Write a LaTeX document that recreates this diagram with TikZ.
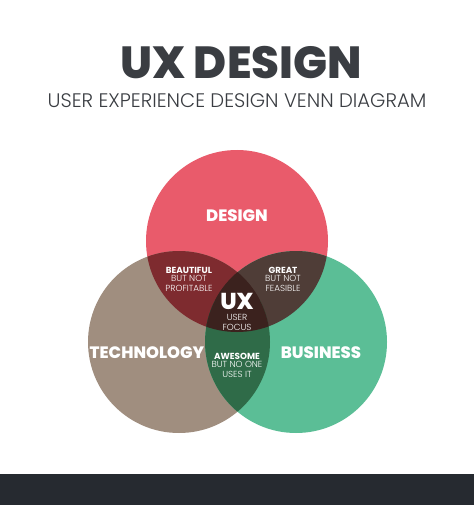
\documentclass[tikz,border=0pt]{standalone}
\usepackage{fontspec}
\setmainfont{Poppins}[FontFace={eb}{n}{Poppins ExtraBold},FontFace={l}{n}{Poppins Light}]
\usepackage{xcolor}
\usetikzlibrary{positioning}
\definecolor{designred}{HTML}{E95B6B}
\definecolor{techbrown}{HTML}{A08E7F}
\definecolor{bizgreen}{HTML}{5BBE96}
\definecolor{redtech}{HTML}{7E2B2F}
\definecolor{redbiz}{HTML}{4F3D37}
\definecolor{techbiz}{HTML}{2F6B48}
\definecolor{uxcore}{HTML}{3B221E}
\definecolor{titlegray}{HTML}{3A3D42}
\definecolor{footbar}{HTML}{262A30}

\begin{document}
\begin{tikzpicture}[x=1pt,y=-1pt,
  setlbl/.style={text=white,font=\fontseries{eb}\fontsize{16.5}{17}\selectfont},
  parthead/.style={text=white,inner sep=0pt,font=\bfseries\fontsize{8.8}{9}\selectfont},
  partnote/.style={text=white,align=center,inner sep=0pt,font=\fontseries{l}\fontsize{8.8}{9.8}\selectfont}]
\useasboundingbox (0,0) rectangle (474,505);
\fill[footbar] (0,474) rectangle (474,505);
\node[text=titlegray,font=\fontseries{eb}\fontsize{45}{45}\selectfont] (title) at (241,63) {UX DESIGN};
\node[text=titlegray,font=\fontseries{l}\fontsize{19.6}{20}\selectfont] (subtitle) at (237,101) {USER EXPERIENCE DESIGN VENN DIAGRAM};
\coordinate (d) at (237,241);
\coordinate (t) at (179,342);
\coordinate (b) at (296,342);
\fill[designred] (d) circle (91);
\fill[techbrown] (t) circle (91);
\fill[bizgreen] (b) circle (91);
% overlaps
\begin{scope}
\clip (d) circle (91);
\fill[redtech] (t) circle (91);
\fill[redbiz] (b) circle (91);
\clip (t) circle (91);
\fill[uxcore] (b) circle (91);
\end{scope}
\begin{scope}
\clip (t) circle (91);
\clip (b) circle (91);
\fill[techbiz] (200,300) rectangle (290,440);
\fill[uxcore] (d) circle (91);
\end{scope}
\node[setlbl] (design) at (237,216) {DESIGN};
\node[setlbl] (tech) at (147,353) {TECHNOLOGY};
\node[setlbl] (biz) at (321,353) {BUSINESS};
\node[parthead] (beau) at (189,270) {BEAUTIFUL};
\node[partnote,below=2pt of beau] (beaunote) {BUT NOT\\PROFITABLE};
\node[parthead] (great) at (283,270) {GREAT};
\node[partnote,below=2pt of great] (greatnote) {BUT NOT\\FEASIBLE};
\node[text=white,inner sep=0pt,font=\fontseries{eb}\fontsize{23}{23}\selectfont] (ux) at (237,301) {UX};
\node[partnote,below=5pt of ux] (uxnote) {USER\\FOCUS};
\node[parthead] (awe) at (237,356) {AWESOME};
\node[partnote,below=2pt of awe] (awenote) {BUT NO ONE\\USES IT};
\end{tikzpicture}
\end{document}
